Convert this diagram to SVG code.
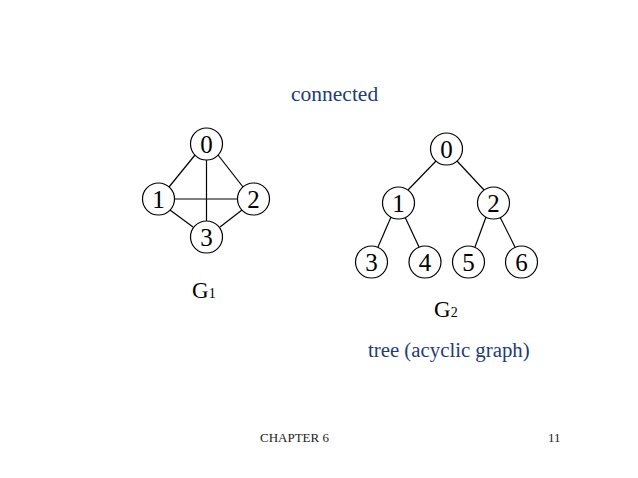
<svg xmlns="http://www.w3.org/2000/svg" width="638" height="478" viewBox="0 0 638 478">
<style>
.n{fill:#fff;stroke:#000;stroke-width:1.2}
.e{stroke:#000;stroke-width:1.2;fill:none}
.t{font-family:"Liberation Serif",serif;font-size:25px;fill:#000;text-anchor:middle}
.g{font-family:"Liberation Serif",serif;font-size:23px;fill:#000}
.b{font-family:"Liberation Serif",serif;font-size:21.5px;fill:#1f3c74}
.f{font-family:"Liberation Serif",serif;font-size:13px;fill:#222}
</style>
<rect width="638" height="478" fill="#fff"/>
<text class="b" x="291" y="101">connected</text>
<g id="connectors">
<line class="e" x1="195" y1="155" x2="169" y2="187"/>
<line class="e" x1="218" y1="155" x2="243" y2="187"/>
<line class="e" x1="174" y1="199" x2="238" y2="199"/>
<line class="e" x1="206.5" y1="160" x2="206.5" y2="221"/>
<line class="e" x1="170" y1="210" x2="193" y2="227"/>
<line class="e" x1="242" y1="210" x2="220" y2="227"/>
<line class="e" x1="436" y1="161" x2="408" y2="190"/>
<line class="e" x1="457" y1="161" x2="484" y2="190"/>
<line class="e" x1="391" y1="217" x2="378" y2="247"/>
<line class="e" x1="405" y1="217" x2="419" y2="247"/>
<line class="e" x1="486" y1="217" x2="475" y2="247"/>
<line class="e" x1="500" y1="217" x2="515" y2="247"/>
</g>
<g id="g1n0"><circle class="n" cx="206.5" cy="144" r="16"/><text class="t" x="206.5" y="153">0</text></g>
<g id="g1n1"><circle class="n" cx="158.5" cy="199" r="16"/><text class="t" x="158.5" y="208">1</text></g>
<g id="g1n2"><circle class="n" cx="253.5" cy="199" r="16"/><text class="t" x="253.5" y="208">2</text></g>
<g id="g1n3"><circle class="n" cx="206.5" cy="237" r="16"/><text class="t" x="206.5" y="246">3</text></g>
<g id="g1label"><text class="g" x="192" y="298">G<tspan style="font-size:14px">1</tspan></text></g>
<g id="g2n0"><circle class="n" cx="446.5" cy="149" r="16"/><text class="t" x="446.5" y="158">0</text></g>
<g id="g2n1"><circle class="n" cx="398.5" cy="203" r="16"/><text class="t" x="398.5" y="212">1</text></g>
<g id="g2n2"><circle class="n" cx="493.5" cy="203" r="16"/><text class="t" x="493.5" y="212">2</text></g>
<g id="g2n3"><circle class="n" cx="371.5" cy="262" r="16"/><text class="t" x="371.5" y="271">3</text></g>
<g id="g2n4"><circle class="n" cx="425" cy="262" r="16"/><text class="t" x="425" y="271">4</text></g>
<g id="g2n5"><circle class="n" cx="468.5" cy="262" r="16"/><text class="t" x="468.5" y="271">5</text></g>
<g id="g2n6"><circle class="n" cx="521.5" cy="262" r="16"/><text class="t" x="521.5" y="271">6</text></g>
<g id="g2label"><text class="g" x="434" y="317">G<tspan style="font-size:14px">2</tspan></text></g>
<text class="b" x="368" y="357" style="font-size:20.8px">tree (acyclic graph)</text>
<text class="f" x="260" y="442">CHAPTER 6</text>
<text class="f" x="548" y="442">11</text>
</svg>
